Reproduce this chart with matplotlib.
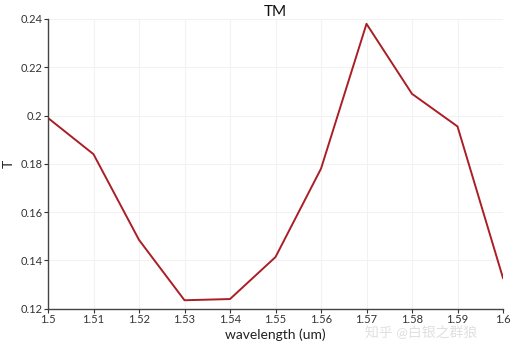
import matplotlib
matplotlib.use("Agg")
import matplotlib.pyplot as plt

wavelength = [1.50, 1.51, 1.52, 1.53, 1.54, 1.55, 1.56, 1.57, 1.58, 1.59, 1.60]
T = [0.199, 0.184, 0.1485, 0.1235, 0.124, 0.1414, 0.178, 0.238, 0.209, 0.1955, 0.1327]
xticks = [1.50, 1.51, 1.52, 1.53, 1.54, 1.55, 1.56, 1.57, 1.58, 1.59, 1.60]
xticklabels = ["1.5", "1.51", "1.52", "1.53", "1.54", "1.55", "1.56", "1.57", "1.58", "1.59", "1.6"]
yticks = [0.12, 0.14, 0.16, 0.18, 0.20, 0.22, 0.24]
yticklabels = ["0.12", "0.14", "0.16", "0.18", "0.2", "0.22", "0.24"]

plt.rcParams['font.family'] = ['Lato', 'Noto Sans CJK SC', 'DejaVu Sans']

fig = plt.figure(figsize=(5.2, 3.46), dpi=100)
ax = fig.add_axes([48/520, 1 - 308.7/346, (503-48)/520, (308.7-19)/346])
ax.plot(wavelength, T, color='#aa1e26', linewidth=1.4)
ax.set_xlim(1.5, 1.6)
ax.set_ylim(0.12, 0.24)
ax.set_xticks(xticks)
ax.set_xticklabels(xticklabels)
ax.set_yticks(yticks)
ax.set_yticklabels(yticklabels)
ax.tick_params(labelsize=8, length=3, width=0.8, colors='#333333', pad=1)
ax.grid(True, color='#f2f2f2', linewidth=0.8)
for s in ['top', 'right']:
    ax.spines[s].set_visible(False)
for s in ['left', 'bottom']:
    ax.spines[s].set_color('#444444')
    ax.spines[s].set_linewidth(1.0)
ax.set_xlabel('wavelength (um)', fontsize=10, color='#222222', labelpad=2)
ax.set_ylabel('T', fontsize=10, color='#222222', labelpad=4)
ax.set_title('TM', fontsize=11, color='#111111', pad=2)
fig.text(0.81, 0.04, '知乎 @白银之群狼', fontsize=10, color='#dddddd', ha='center', va='center', alpha=0.9)
fig.savefig('out.png', dpi=100)
